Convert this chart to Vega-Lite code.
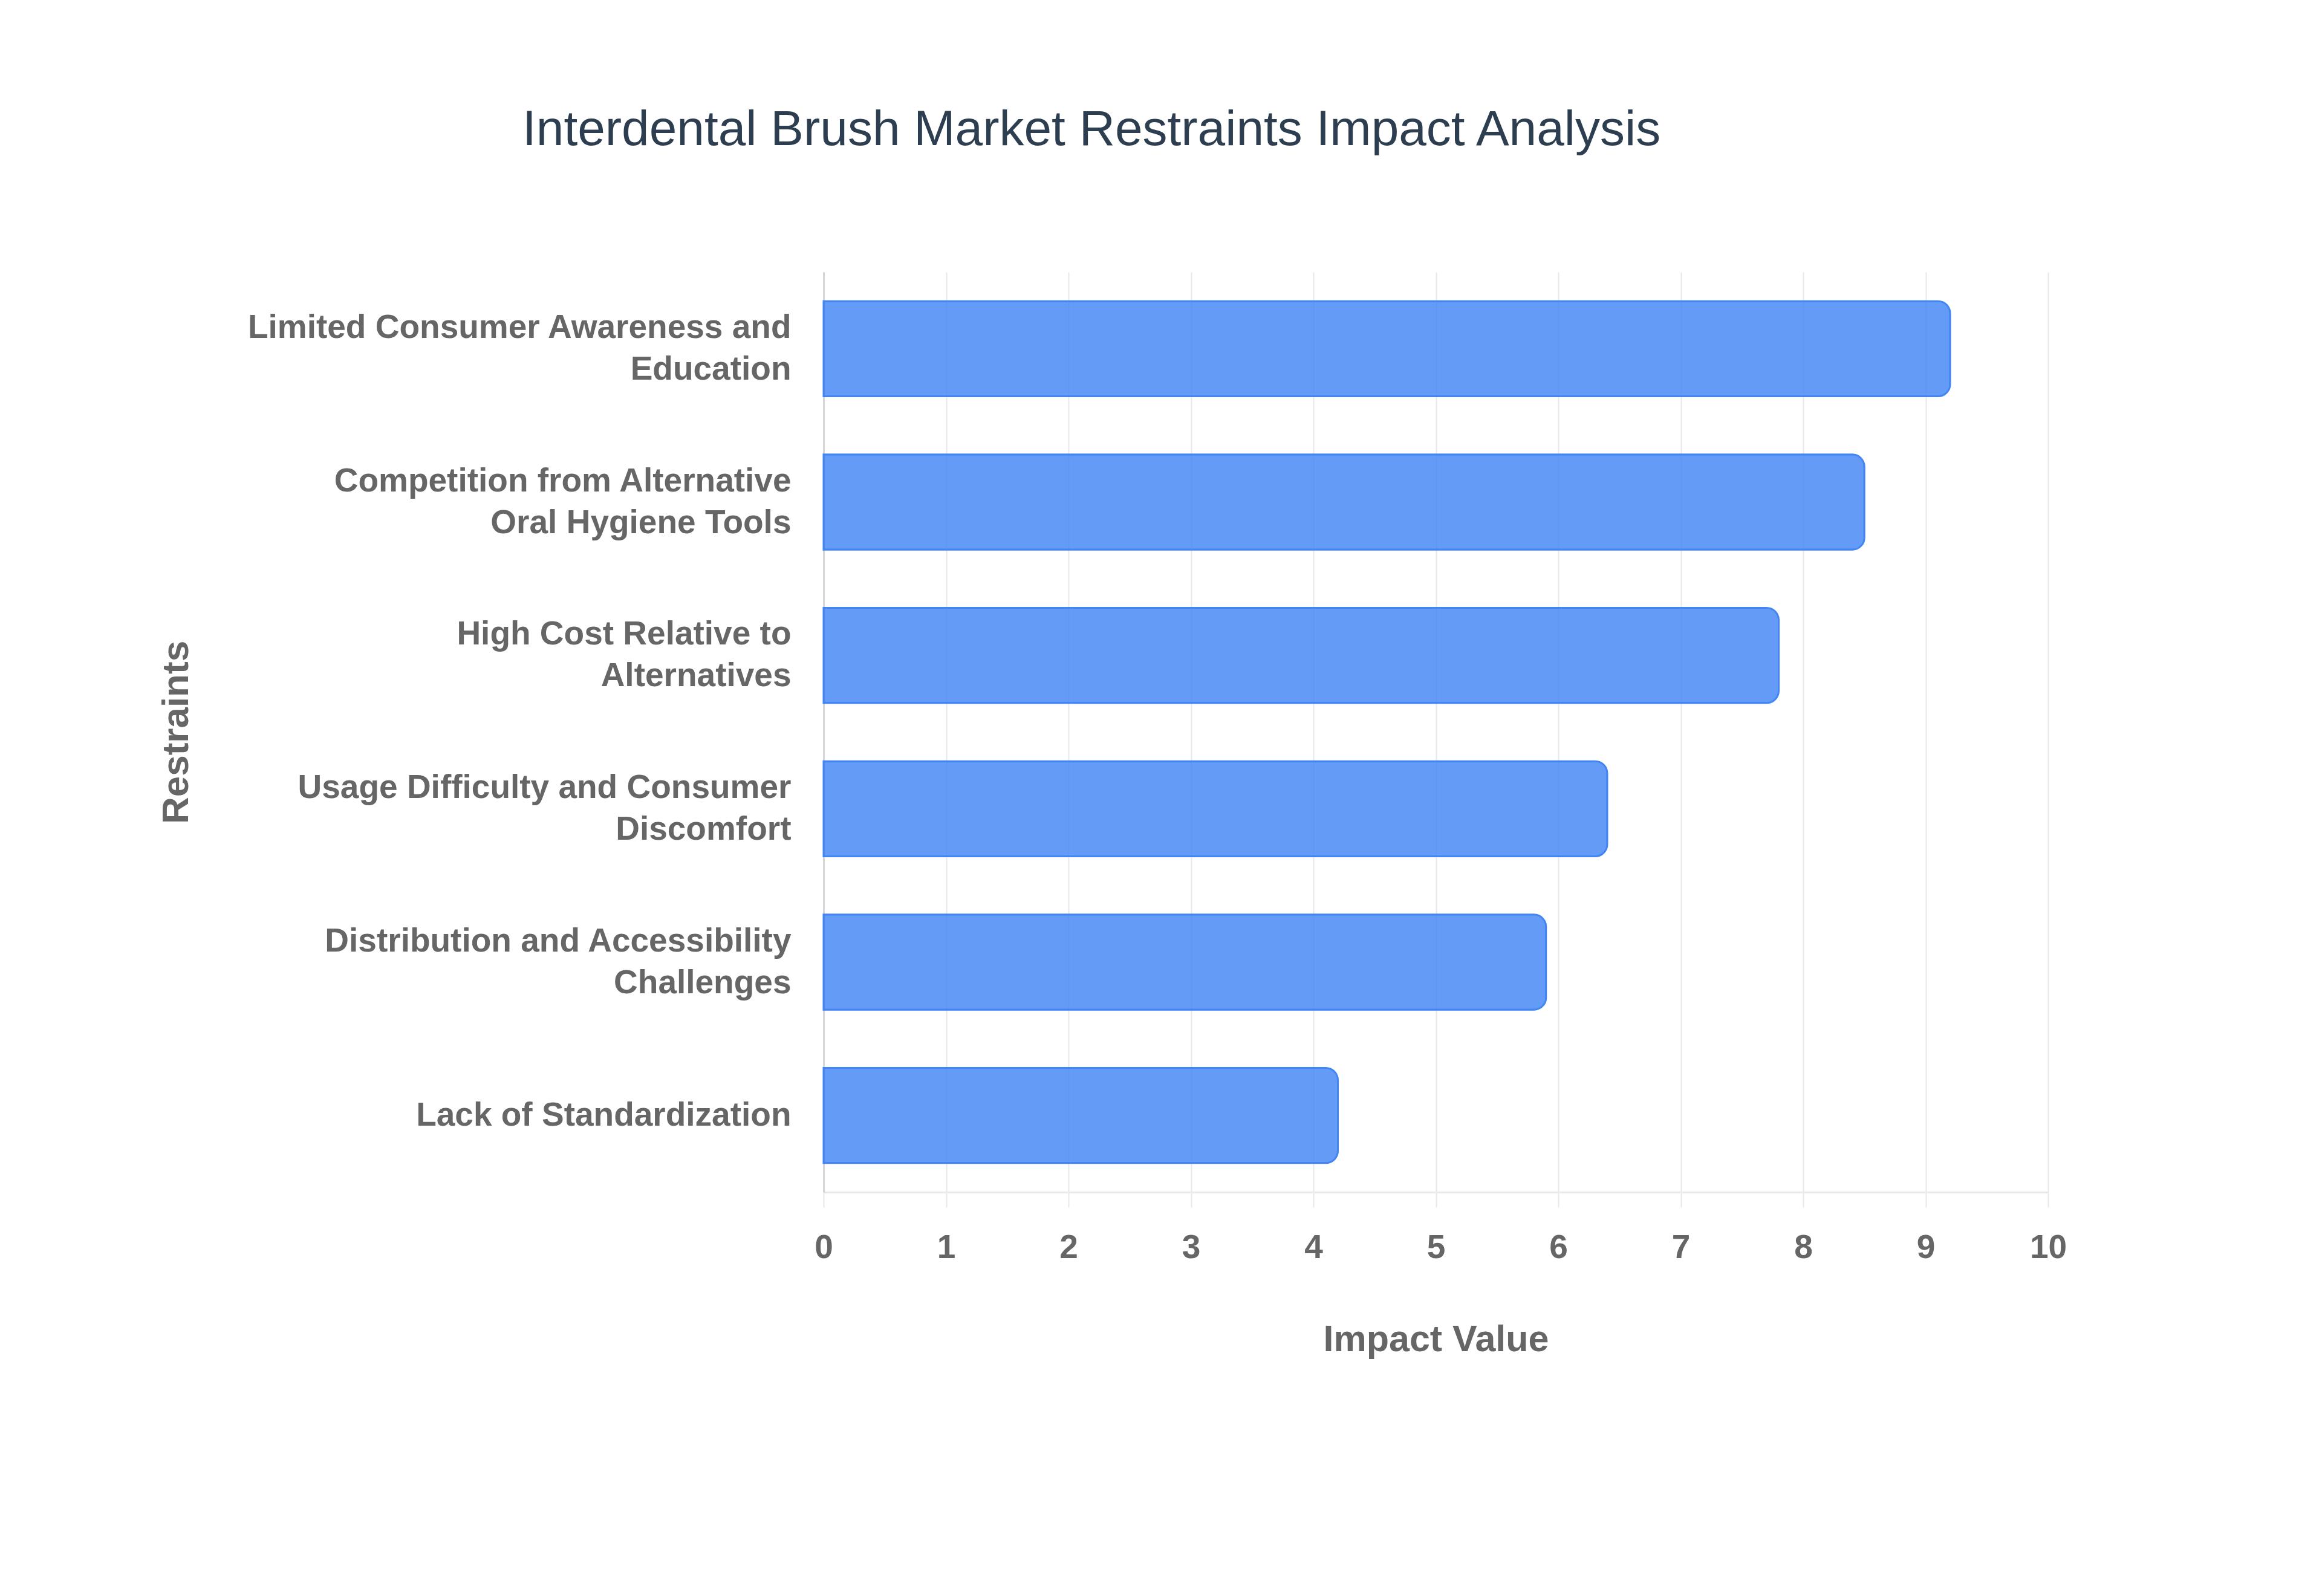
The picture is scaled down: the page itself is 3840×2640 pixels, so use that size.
{
  "$schema": "https://vega.github.io/schema/vega-lite/v6.json",
  "width": 2025,
  "height": 1522,
  "autosize": {"type": "none"},
  "padding": {"left": 1362, "top": 450, "right": 453, "bottom": 668},
  "background": "white",
  "title": {
    "text": "Interdental Brush Market Restraints Impact Analysis",
    "font": "Liberation Sans",
    "fontSize": 82,
    "fontWeight": "normal",
    "color": "#2c3e50",
    "anchor": "start",
    "frame": "group",
    "dx": -498,
    "baseline": "alphabetic",
    "offset": 128
  },
  "data": {
    "values": [
      {"restraint": "Limited Consumer Awareness and Education", "impact": 9.2},
      {"restraint": "Competition from Alternative Oral Hygiene Tools", "impact": 8.5},
      {"restraint": "High Cost Relative to Alternatives", "impact": 7.8},
      {"restraint": "Usage Difficulty and Consumer Discomfort", "impact": 6.4},
      {"restraint": "Distribution and Accessibility Challenges", "impact": 5.9},
      {"restraint": "Lack of Standardization", "impact": 4.2}
    ]
  },
  "mark": {
    "type": "bar",
    "color": "#4285F4",
    "fillOpacity": 0.82,
    "stroke": "#4285F4",
    "strokeWidth": 3,
    "cornerRadiusEnd": 20
  },
  "encoding": {
    "y": {
      "field": "restraint",
      "type": "nominal",
      "sort": "-x",
      "title": "Restraints",
      "scale": {"paddingInner": 0.38, "paddingOuter": 0.19},
      "axis": {
        "labelExpr": "datum.label == 'Limited Consumer Awareness and Education' ? ['Limited Consumer Awareness and', 'Education'] : datum.label == 'Competition from Alternative Oral Hygiene Tools' ? ['Competition from Alternative', 'Oral Hygiene Tools'] : datum.label == 'High Cost Relative to Alternatives' ? ['High Cost Relative to', 'Alternatives'] : datum.label == 'Usage Difficulty and Consumer Discomfort' ? ['Usage Difficulty and Consumer', 'Discomfort'] : datum.label == 'Distribution and Accessibility Challenges' ? ['Distribution and Accessibility', 'Challenges'] : datum.label",
        "labelOffset": {"condition": {"test": "datum.label == 'Lack of Standardization'", "value": 0}, "value": -35},
        "labelFont": "Liberation Sans",
        "labelFontSize": 55,
        "labelFontWeight": "bold",
        "labelColor": "#666666",
        "labelLineHeight": 69,
        "labelPadding": 54,
        "labelLimit": 2000,
        "ticks": false,
        "domain": true,
        "domainColor": "#d6d6d6",
        "domainWidth": 3,
        "grid": false,
        "titleFont": "Liberation Sans",
        "titleFontSize": 62,
        "titleFontWeight": "bold",
        "titleColor": "#666666",
        "titleX": -1071,
        "titleY": 761,
        "titleAngle": -90,
        "titleAlign": "center",
        "titleBaseline": "middle"
      }
    },
    "x": {
      "field": "impact",
      "type": "quantitative",
      "title": "Impact Value",
      "scale": {"domain": [0, 10], "nice": false},
      "axis": {
        "values": [0, 1, 2, 3, 4, 5, 6, 7, 8, 9, 10],
        "labelFont": "Liberation Sans",
        "labelFontSize": 55,
        "labelFontWeight": "bold",
        "labelColor": "#666666",
        "labelPadding": 40,
        "labelFlush": false,
        "ticks": true,
        "tickSize": 25,
        "tickColor": "#e8e8e8",
        "tickWidth": 2,
        "grid": true,
        "gridColor": "#e8e8e8",
        "gridWidth": 2,
        "domain": true,
        "domainColor": "#e8e8e8",
        "domainWidth": 3,
        "titleFont": "Liberation Sans",
        "titleFontSize": 61,
        "titleFontWeight": "bold",
        "titleColor": "#666666",
        "titlePadding": 95
      }
    }
  },
  "config": {"view": {"stroke": null}}
}
